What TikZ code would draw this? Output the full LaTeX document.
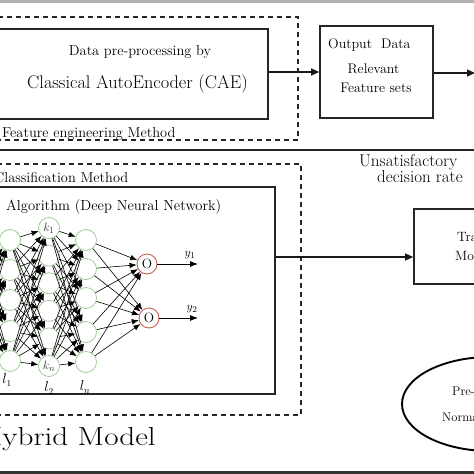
\documentclass[tikz,border=0pt]{standalone}
\usetikzlibrary{arrows.meta,shapes.geometric}
\definecolor{ngreen}{RGB}{150,200,140}
\definecolor{nred}{RGB}{200,95,85}
\newcommand\myfs[1]{\fontsize{#1}{#1}\selectfont}
\begin{document}
\begin{tikzpicture}[x=1pt,y=-1pt,
  box/.style={draw=black!85, line width=1.6pt, rectangle, inner sep=0pt},
  dbox/.style={draw=black!85, line width=1.2pt, dash pattern=on 5pt off 4pt, rectangle, inner sep=0pt},
  conn/.style={draw=black!90, line width=1.3pt, -{Triangle[length=8pt,width=7pt]}},
  neuron/.style={circle, draw=ngreen, line width=0.7pt, minimum size=21pt, inner sep=0pt},
  outn/.style={circle, draw=nred, line width=0.9pt, minimum size=20pt, inner sep=0pt, font=\myfs{13.5}},
  nnarrow/.style={draw=black, line width=0.6pt, -{Latex[length=7pt,width=5.5pt]}},
  yarrow/.style={draw=black, line width=0.8pt, -{Latex[length=8pt,width=6pt]}},
  txt/.style={inner sep=0pt},
]
\useasboundingbox (0,0) rectangle (474,474);
\clip (0,0) rectangle (474,474);
% frame bands
\fill[black!30] (0,0) rectangle (474,3);
\fill[black!80] (0,471) rectangle (474,474);
\draw[line width=1.5pt, black!85] (0,150) -- (474,150);

% feature engineering part
\node[dbox, minimum width=338pt, minimum height=123pt] (fe) at (129,78.5) {};
\node[box, minimum width=308pt, minimum height=90pt] (cae) at (114,74) {};
\node[txt, anchor=base, font=\myfs{14.4}] (t1) at (140,55) {Data pre-processing by};
\node[txt, anchor=base, font=\myfs{18.3}] (t2) at (137.5,88) {Classical AutoEncoder (CAE)};
\node[txt, anchor=base west, font=\myfs{14.4}] (t3) at (2,137) {Feature engineering Method};

\node[box, minimum width=113pt, minimum height=92pt] (out) at (376.5,72) {};
\node[txt, anchor=base west, font=\myfs{13.9}] (o1t) at (328,48) {Output\ \ Data};
\node[txt, anchor=base, font=\myfs{13.9}] (o2t) at (373.5,73) {Relevant};
\node[txt, anchor=base, font=\myfs{13.9}] (o3t) at (376,92) {Feature sets};
\draw[conn] (cae.east |- out.west) -- (out.west);
\coordinate (rightend) at (475,73);
\draw[conn] (out.east |- rightend) -- (rightend);

% unsatisfactory
\node[txt, anchor=base west, font=\myfs{17}] (u1) at (359,166) {Unsatisfactory};
\node[txt, anchor=base west, font=\myfs{17}] (u2) at (377,182) {decision rate};

% classification part
\node[dbox, minimum width=341pt, minimum height=251pt] (cl) at (130.5,289.5) {};
\node[box, minimum width=315pt, minimum height=207pt] (dnn) at (117.5,290.5) {};
\node[txt, anchor=base west, font=\myfs{14.4}] (clt) at (-6,182) {Classification Method};
\node[txt, anchor=base west, font=\myfs{14.6}] (alg) at (6,210) {Algorithm (Deep Neural Network)};

% training box
\node[box, minimum width=116pt, minimum height=75pt] (train) at (472,246.5) {};
\node[txt, anchor=base west, font=\myfs{13.5}] (tr1) at (457,241) {Training};
\node[txt, anchor=base west, font=\myfs{13.5}] (tr2) at (455,260) {Model};
\coordinate (dnnout) at (275,257);
\draw[conn] (dnnout) -- (dnnout -| train.west);

% ellipse
\node[ellipse, draw=black, line width=1.9pt, minimum width=176pt, minimum height=94pt] (pre) at (490,404) {};
\node[txt, anchor=base west, font=\myfs{12.5}] (p1) at (452,395) {Pre-processing};
\node[txt, anchor=base west, font=\myfs{12.5}] (p2) at (442,421) {Normalization};

% hybrid model
\node[txt, anchor=base east, font=\myfs{26}] (hm) at (156,445) {\scalebox{1.2}[1]{Hybrid Model}};

% neural network
\foreach \c in {1,...,6} \node[neuron] (z\c) at (-28,{228+27.6*(\c-1)}) {};
\foreach \y [count=\c] in {240,270,300,331,361} \node[neuron] (a\c) at (10,\y) {};
\foreach \c in {1,...,6} \node[neuron] (b\c) at (49,{228+27.6*(\c-1)}) {};
\foreach \y [count=\c] in {240,269,298,332,362} \node[neuron] (n\c) at (86,\y) {};
\node[txt, font=\myfs{12.5}, text=black!80] (k1) at (b1) {$k_1$};
\node[txt, font=\myfs{12.5}, text=black!80] (kn) at (b6) {$k_n$};
\node[outn] (y1n) at (147,264) {O};
\node[outn] (y2n) at (149,318) {O};

\foreach \i in {1,...,6} \foreach \j in {1,...,5} \draw[nnarrow] (z\i) -- (a\j);
\foreach \i in {1,...,5} \foreach \j in {1,...,6} \draw[nnarrow] (a\i) -- (b\j);
\foreach \i in {1,...,6} \foreach \j in {1,...,5} \draw[nnarrow] (b\i) -- (n\j);
\foreach \i in {1,...,5} \foreach \j in {1,2} {\draw[nnarrow] (n\i) -- (y\j n);}

\coordinate (y1e) at (198,264);
\coordinate (y2e) at (198,318);
\draw[yarrow] (y1n) -- (y1e);
\draw[yarrow] (y2n) -- (y2e);
\node[txt, font=\myfs{12.5}] (y1l) at (190,255) {$y_1$};
\node[txt, font=\myfs{12.5}] (y2l) at (192,309) {$y_2$};

\node[txt, font=\myfs{13.5}] (l1) at (7,380) {$l_1$};
\node[txt, font=\myfs{13.5}] (l2) at (49,388) {$l_2$};
\node[txt, font=\myfs{13.5}] (ln) at (85,387) {$l_n$};
\end{tikzpicture}
\end{document}
